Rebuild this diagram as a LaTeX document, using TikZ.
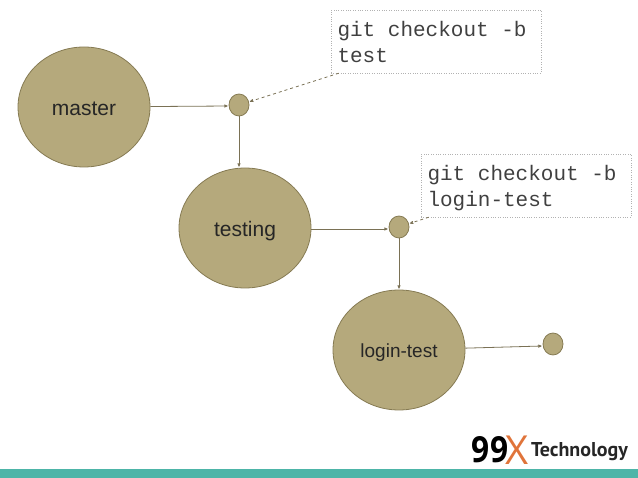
\documentclass[tikz,border=0pt]{standalone}
\usepackage{fontspec}
\setmainfont{Liberation Sans}
\setmonofont{Liberation Mono}
\newfontfamily\logofont{Open Sans}
\newfontfamily\logotextfont{PT Sans}
\usetikzlibrary{arrows.meta, positioning, shapes.geometric}
\definecolor{branchfill}{HTML}{B5A97C}
\definecolor{branchline}{HTML}{857A52}
\definecolor{linkline}{HTML}{7A7155}
\definecolor{footerbar}{HTML}{4DB5A8}
\definecolor{logoorange}{HTML}{E0743A}

\begin{document}
\begin{tikzpicture}[x=1pt,y=1pt,shorten >=1pt,on grid,>={Stealth[round,length=5pt,width=4pt]},
	branch/.style={ellipse, draw=branchline, fill=branchfill, line width=0.8pt, inner sep=0pt, minimum width=132pt, minimum height=120pt, text height=17pt, text depth=0pt, text=black!85},
	commit/.style={ellipse, draw=branchline, fill=branchfill, line width=0.8pt, inner sep=0pt, minimum width=20pt, minimum height=22pt},
	note/.style={draw=gray!60, dotted, inner sep=0pt, minimum width=210pt, minimum height=63pt, text width=197pt, align=left, text=black!75, font=\ttfamily\fontsize{21}{26}\selectfont, execute at begin node={\spaceskip 12.6pt\relax}}]
	
	\useasboundingbox (0,0) rectangle (638,-478);
	\fill [footerbar] (0,-469) rectangle (638,-478);
	
	\node (master) [branch, font=\fontsize{21}{25}\selectfont] at (84,-107) {master};
	\node (c1) [commit, above right = 2pt and 155pt of master] {};
	\node (testing) [branch, below right = 123pt and 6pt of c1, font=\fontsize{21}{25}\selectfont] {testing};
	\node (c2) [commit, above right = 1pt and 154pt of testing] {};
	\node (login) [branch, below = 123pt of c2, text height=15pt, font=\fontsize{19}{23}\selectfont] {login-test};
	\node (c3) [commit, above right = 6pt and 154pt of login] {};
	
	\node (note1) [note] at (436,-41.5) {git checkout -b\\test};
	\node (note2) [note] at (526,-185.5) {\rule{0pt}{19.5pt}git checkout -b\\login-test};
	
	\node (logo99) [inner sep=0pt, xscale=0.88, transform shape, font=\logofont\bfseries\fontsize{36}{36}\selectfont] at (490,-450) {99};
	\node (logox) [inner sep=0pt, text=logoorange, right = 27pt of logo99, font=\logofont\fontsize{40}{40}\selectfont] {X};
	\node (logotext) [inner sep=0pt, below right = 2pt and 62.5pt of logox, text=black!85, font=\logotextfont\bfseries\fontsize{20}{20}\selectfont] {Technology};
	
	\path [->, linkline, line width=0.8pt]
	(master) edge ([yshift=-1pt]c1.west)
	(c1) edge (c1 |- testing.north)
	([yshift=-1pt]testing.east) edge ([yshift=-2pt]c2.west)
	(c2) edge (login)
	(login) edge ([yshift=-2pt]c3.west);
	
	\path [->, linkline, dashed, line width=0.8pt]
	([xshift=8pt]note1.south west) edge (c1)
	([xshift=8pt]note2.south west) edge (c2);
\end{tikzpicture}
\end{document}
